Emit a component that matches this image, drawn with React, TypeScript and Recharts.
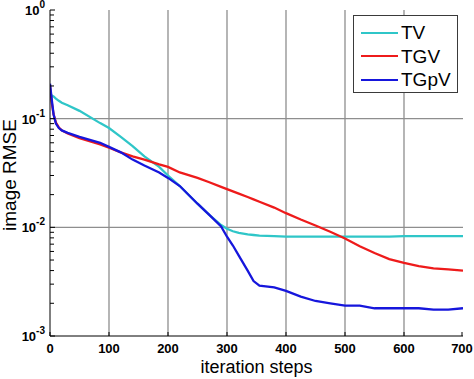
import React from "react";
import { LineChart, Line, XAxis, YAxis, ReferenceLine, Legend } from "recharts";

const steps = [0, 3, 6, 10, 15, 20, 30, 50, 85, 100, 120, 140, 160, 185, 200, 220, 250, 270, 290, 300, 310, 320, 335, 345, 355, 380, 400, 425, 450, 475, 500, 525, 550, 575, 600, 625, 650, 675, 700];

const tv = [0.17, 0.163, 0.16, 0.153, 0.146, 0.14, 0.133, 0.118, 0.091, 0.082, 0.068, 0.056, 0.045, 0.036, 0.03, 0.024, 0.0165, 0.013, 0.0105, 0.0097, 0.0092, 0.0089, 0.0086, 0.0085, 0.0084, 0.0083, 0.0082, 0.0082, 0.0082, 0.0082, 0.0082, 0.0082, 0.0082, 0.0082, 0.0083, 0.0083, 0.0083, 0.0083, 0.0083];

const tgv = [0.2, 0.14, 0.11, 0.092, 0.083, 0.078, 0.073, 0.066, 0.058, 0.054, 0.049, 0.045, 0.042, 0.038, 0.036, 0.032, 0.0285, 0.026, 0.0236, 0.0225, 0.0214, 0.0204, 0.019, 0.0181, 0.0172, 0.0152, 0.0135, 0.0118, 0.0104, 0.0091, 0.0079, 0.0067, 0.0058, 0.0051, 0.0047, 0.0044, 0.0042, 0.0041, 0.004];

const tgpv = [0.21, 0.15, 0.11, 0.09, 0.082, 0.078, 0.074, 0.068, 0.06, 0.055, 0.049, 0.042, 0.037, 0.032, 0.0285, 0.024, 0.0165, 0.013, 0.0102, 0.0082, 0.0068, 0.0055, 0.004, 0.0032, 0.0029, 0.0028, 0.0026, 0.0023, 0.0021, 0.002, 0.0019, 0.0019, 0.0018, 0.0018, 0.0018, 0.0018, 0.00175, 0.00175, 0.0018];

const xTicks = [0, 100, 200, 300, 400, 500, 600, 700];
const xGrid = [100, 200, 300, 400, 500, 600];
const yGrid = [0.1, 0.01];
const decades = [0.001, 0.01, 0.1];
const yTicks = [...decades.flatMap((d) => [1, 2, 3, 4, 5, 6, 7, 8, 9].map((m) => d * m)), 1];

const series = [
  { name: "TV", color: "#2fc6c8", values: tv },
  { name: "TGV", color: "#ee1b1b", values: tgv },
  { name: "TGpV", color: "#1616dc", values: tgpv },
];

const data = steps.map((s, i) => ({
  step: s,
  TV: tv[i],
  TGV: tgv[i],
  TGpV: tgpv[i],
}));

const font = '"Liberation Sans", Arial, sans-serif';

const isMajor = (v: number) => Math.abs(Math.log10(v) - Math.round(Math.log10(v))) < 1e-6;

const LeftTick = ({ x, y, payload }: any) => {
  const v = payload.value;
  const major = isMajor(v);
  return (
    <g>
      <line x1={x} x2={x + (major ? 5 : 4)} y1={y} y2={y} stroke="#000" strokeWidth={1} />
      {major && (
        <text x={x - 5} y={y + 5} textAnchor="end" fontFamily={font} fontWeight="bold" fontSize={13} fill="#000">
          10
          <tspan dy={-7} fontSize={10}>{Math.round(Math.log10(v))}</tspan>
        </text>
      )}
    </g>
  );
};

const RightTick = ({ x, y, payload }: any) => {
  const major = isMajor(payload.value);
  return <line x1={x} x2={x - (major ? 5 : 4)} y1={y} y2={y} stroke="#000" strokeWidth={1} />;
};

const BottomTick = ({ x, y, payload }: any) => (
  <g>
    <line x1={x} x2={x} y1={y} y2={y - 4} stroke="#000" strokeWidth={1} />
    <text x={x} y={y + 17} textAnchor="middle" fontFamily={font} fontWeight="bold" fontSize={13} fill="#000">
      {payload.value}
    </text>
  </g>
);

const TopTick = ({ x, y }: any) => <line x1={x} x2={x} y1={y} y2={y + 4} stroke="#000" strokeWidth={1} />;

const XTitle = ({ viewBox }: any) => (
  <text x={viewBox.x + viewBox.width / 2} y={viewBox.y + 37} textAnchor="middle" fontFamily={font} fontSize={18} fill="#000">
    iteration steps
  </text>
);

const YTitle = ({ viewBox }: any) => (
  <text
    transform={`translate(${viewBox.x + 16}, ${viewBox.y + viewBox.height / 2 + 2}) rotate(-90)`}
    textAnchor="middle"
    fontFamily={font}
    fontSize={19}
    fill="#000"
  >
    image RMSE
  </text>
);

const LegendBox = () => (
  <div
    style={{
      width: 105,
      height: 78,
      boxSizing: "border-box",
      border: "1px solid #3a3a3a",
      background: "#fff",
      paddingTop: 5,
      paddingLeft: 7,
      fontFamily: font,
      fontSize: 19,
      color: "#000",
    }}
  >
    {series.map((s) => (
      <div key={s.name} style={{ display: "flex", alignItems: "center", height: 23.5 }}>
        <svg width={37} height={4} style={{ display: "block" }}>
          <line x1={0} x2={37} y1={2} y2={2} stroke={s.color} strokeWidth={2.2} />
        </svg>
        <span style={{ marginLeft: 3, lineHeight: "19px" }}>{s.name}</span>
      </div>
    ))}
  </div>
);

export default function App() {
  return (
    <div style={{ width: 474, height: 379, background: "#fff", overflow: "hidden" }}>
      <style>{"body{margin:0}"}</style>
      <LineChart width={474} height={379} data={data} margin={{ top: 10, right: 11, bottom: 0, left: 0 }}>
        <XAxis
          xAxisId="b"
          dataKey="step"
          type="number"
          domain={[0, 700]}
          ticks={xTicks}
          allowDataOverflow
          height={43}
          tickSize={0}
          tickMargin={0}
          tickLine={false}
          tick={<BottomTick />}
          axisLine={{ stroke: "#000" }}
          label={<XTitle />}
        />
        <XAxis
          xAxisId="t"
          orientation="top"
          dataKey="step"
          type="number"
          domain={[0, 700]}
          ticks={xTicks}
          allowDataOverflow
          height={0}
          tickSize={0}
          tickMargin={0}
          tickLine={false}
          tick={<TopTick />}
          axisLine={{ stroke: "#000" }}
        />
        <YAxis
          yAxisId="l"
          scale="log"
          type="number"
          domain={[0.001, 1]}
          ticks={yTicks}
          allowDataOverflow
          width={50}
          tickSize={0}
          tickMargin={0}
          tickLine={false}
          tick={<LeftTick />}
          axisLine={{ stroke: "#000" }}
          interval={0}
          label={<YTitle />}
        />
        <YAxis
          yAxisId="r"
          orientation="right"
          scale="log"
          type="number"
          domain={[0.001, 1]}
          ticks={yTicks}
          allowDataOverflow
          width={0}
          tickSize={0}
          tickMargin={0}
          tickLine={false}
          tick={<RightTick />}
          axisLine={{ stroke: "#000" }}
          interval={0}
        />
        {xGrid.map((g) => (
          <ReferenceLine key={"x" + g} x={g} xAxisId="b" yAxisId="l" stroke="#8e8e8e" strokeWidth={1.3} />
        ))}
        {yGrid.map((g) => (
          <ReferenceLine key={"y" + g} y={g} xAxisId="b" yAxisId="l" stroke="#8e8e8e" strokeWidth={1.3} />
        ))}
        {series.map((s) => (
          <Line
            key={s.name}
            xAxisId="b"
            yAxisId="l"
            dataKey={s.name}
            type="linear"
            stroke={s.color}
            strokeWidth={2.3}
            dot={false}
            isAnimationActive={false}
          />
        ))}
        <Legend
          layout="vertical"
          align="center"
          verticalAlign="middle"
          content={<LegendBox />}
          wrapperStyle={{ top: 15, left: 353, width: 105, height: 78 }}
        />
      </LineChart>
    </div>
  );
}
